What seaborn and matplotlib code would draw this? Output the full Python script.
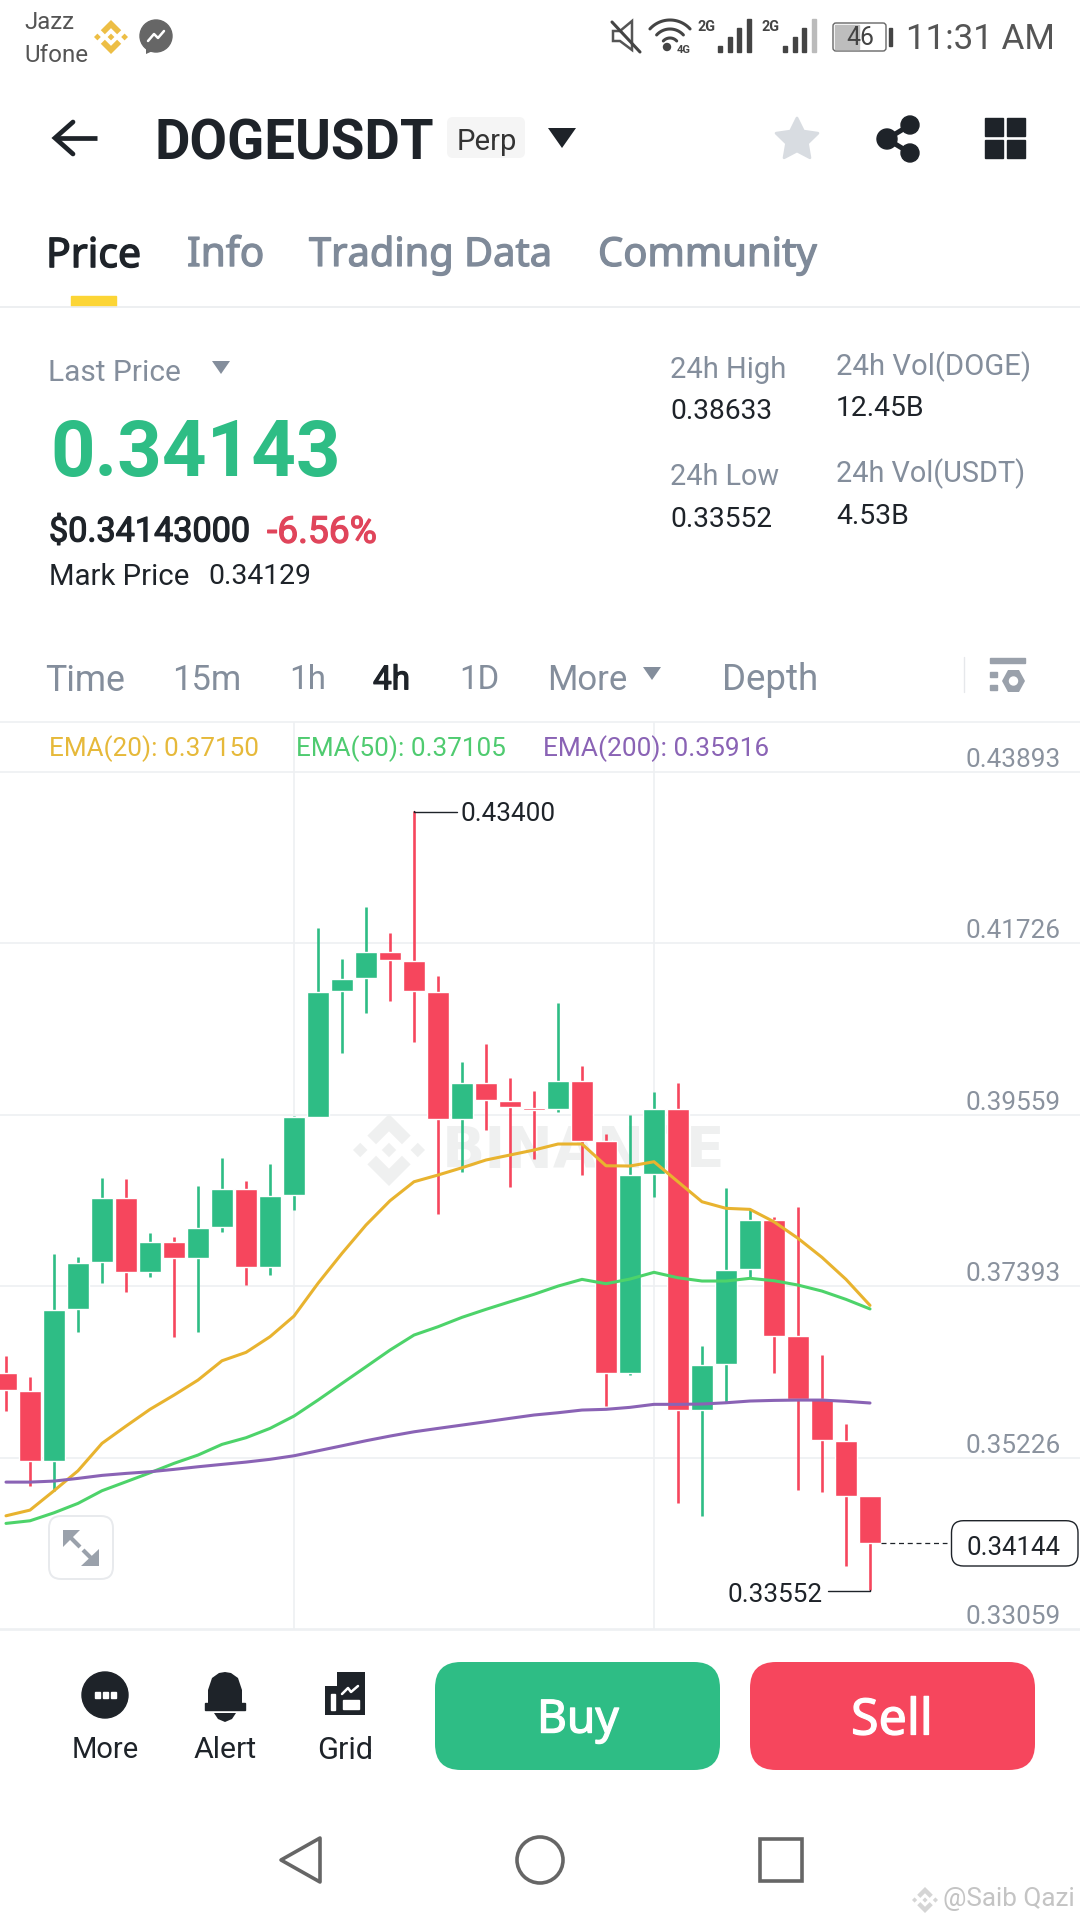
"""
plot.py - DOGEUSDT perp 4h candle screen, rebuilt with seaborn + matplotlib.
"""

import numpy as np
import pandas as pd
import matplotlib
matplotlib.use("Agg")
import matplotlib.pyplot as plt
import matplotlib.patheffects as pe
import seaborn as sns
from matplotlib.patches import Circle, FancyBboxPatch, Polygon, Rectangle

# candles, oldest first
opens = [0.36298, 0.36071, 0.35178, 0.37100, 0.37698, 0.38503, 0.37571, 0.37955, 0.37749, 0.38137,
         0.38621, 0.37639, 0.38541, 0.39535, 0.41124, 0.41289, 0.41613, 0.41503, 0.41115, 0.39510,
         0.39961, 0.39733, 0.39645, 0.39629, 0.39986, 0.39232, 0.36298, 0.38807, 0.39629, 0.35827,
         0.36408, 0.37609, 0.38229, 0.36759, 0.35962, 0.35435, 0.34743]
highs = [0.36513, 0.36244, 0.37799, 0.37757, 0.38756, 0.38747, 0.38061, 0.38018, 0.38659, 0.39009,
         0.38722, 0.38937, 0.39548, 0.41917, 0.41533, 0.42182, 0.41854, 0.43400, 0.41314, 0.40230,
         0.40450, 0.40028, 0.39864, 0.40969, 0.40176, 0.39312, 0.39556, 0.39843, 0.39961, 0.36640,
         0.38630, 0.38364, 0.38271, 0.38397, 0.36518, 0.35646, 0.34743]
lows = [0.35814, 0.34866, 0.34807, 0.36813, 0.37429, 0.37319, 0.37512, 0.36746, 0.36813, 0.38077,
        0.37411, 0.37537, 0.38355, 0.39530, 0.40337, 0.40850, 0.40998, 0.40479, 0.38301, 0.38832,
        0.39367, 0.38642, 0.38996, 0.39598, 0.38802, 0.35877, 0.36269, 0.38524, 0.34647, 0.34490,
        0.35932, 0.37504, 0.36298, 0.34815, 0.34794, 0.33854, 0.33552]
closes = [0.36080, 0.35178, 0.37091, 0.37689, 0.38503, 0.37571, 0.37955, 0.37749, 0.38132, 0.38621,
          0.37639, 0.38532, 0.39535, 0.41115, 0.41280, 0.41613, 0.41512, 0.41124, 0.39510, 0.39961,
          0.39746, 0.39654, 0.39620, 0.39986, 0.39232, 0.36298, 0.38794, 0.39629, 0.35827, 0.36396,
          0.37601, 0.38229, 0.36766, 0.35970, 0.35444, 0.34743, 0.34144]

ema20 = [0.34490, 0.34562, 0.34807, 0.35059, 0.35406, 0.35624, 0.35836, 0.36016, 0.36206, 0.36450,
         0.36556, 0.36754, 0.37015, 0.37429, 0.37808, 0.38166, 0.38473, 0.38713, 0.38798, 0.38890,
         0.38988, 0.39051, 0.39114, 0.39190, 0.39190, 0.38915, 0.38912, 0.38966, 0.38713, 0.38460,
         0.38377, 0.38364, 0.38207, 0.37998, 0.37757, 0.37479, 0.37150]
ema50 = [0.34394, 0.34427, 0.34528, 0.34647, 0.34807, 0.34920, 0.35034, 0.35153, 0.35258, 0.35393,
         0.35477, 0.35595, 0.35751, 0.35953, 0.36164, 0.36374, 0.36585, 0.36775, 0.36880, 0.36999,
         0.37100, 0.37196, 0.37290, 0.37394, 0.37479, 0.37424, 0.37483, 0.37568, 0.37499, 0.37458,
         0.37458, 0.37492, 0.37462, 0.37407, 0.37331, 0.37226, 0.37105]
ema200 = [0.34916, 0.34916, 0.34929, 0.34963, 0.35001, 0.35026, 0.35047, 0.35077, 0.35110, 0.35140,
          0.35169, 0.35204, 0.35249, 0.35312, 0.35375, 0.35439, 0.35498, 0.35552, 0.35595, 0.35637,
          0.35679, 0.35722, 0.35764, 0.35793, 0.35827, 0.35836, 0.35861, 0.35899, 0.35899, 0.35903,
          0.35919, 0.35941, 0.35949, 0.35953, 0.35953, 0.35937, 0.35916]

price_ticks = [0.43893, 0.41726, 0.39559, 0.37393, 0.35226, 0.33059]
time_grid = [12, 27]
day_high = 0.43400
day_low = 0.33552
last_mark = 0.34144

GREEN = "#2EBD85"
RED = "#F6465D"
DARK = "#1E2329"
GRAY = "#848E9C"
GRID = "#EEF0F2"
EMA_COLORS = {"EMA20": "#E8B32F", "EMA50": "#4DD36A", "EMA200": "#8A63B5"}

sns.set_theme(style="white")
plt.rcParams["font.family"] = ["Roboto", "DejaVu Sans"]

fig = plt.figure(figsize=(10.8, 19.2), dpi=100, facecolor="white")
renderer = fig.canvas.get_renderer()


def pixel_axes(zorder):
    a = fig.add_axes([0, 0, 1, 1], zorder=zorder)
    a.set_xlim(0, 1080)
    a.set_ylim(1920, 0)
    a.axis("off")
    a.patch.set_alpha(0)
    return a


back = pixel_axes(0)
ui = pixel_axes(2)


def put(x0, x1, yc, s, color=DARK, weight="normal", family="Roboto", a=None, heavy=0):
    """Place text so it runs from x0 to x1 px, centred on yc."""
    t = (a or ui).text(x0, yc, s, color=color, fontweight=weight, family=family,
                       ha="left", va="center", fontsize=20)
    w = t.get_window_extent(renderer).width
    size = 20 * (x1 - x0) / w
    t.set_fontsize(size)
    # va="center" sits a bit high for caps, push down with the font size
    t.set_y(yc + 0.1 * size * 100 / 72)
    if heavy:
        t.set_path_effects([pe.withStroke(linewidth=heavy, foreground=color)])
    return t


def tri(a, pts, color, **kw):
    a.add_patch(Polygon(pts, closed=True, facecolor=color, edgecolor=kw.pop("edge", "none"), **kw))


def binance_mark(a, cx, cy, r, color):
    shapes = [
        [(0, -0.2), (0.2, 0), (0, 0.2), (-0.2, 0)],
        [(-0.8, -0.2), (-0.6, 0), (-0.8, 0.2), (-1, 0)],
        [(0.8, -0.2), (1, 0), (0.8, 0.2), (0.6, 0)],
        [(-0.6, -0.4), (0, -1), (0.6, -0.4), (0.36, -0.16), (0, -0.52), (-0.36, -0.16)],
        [(-0.6, 0.4), (0, 1), (0.6, 0.4), (0.36, 0.16), (0, 0.52), (-0.36, 0.16)],
    ]
    for s in shapes:
        tri(a, [(cx + x * r, cy + y * r) for x, y in s], color)


# ---- chart ----
k = (price_ticks[0] - price_ticks[-1]) / (1629 - 772)
ax = fig.add_axes([0, 1 - 1630 / 1920, 1, (1630 - 721.7) / 1920], zorder=1)
ax.patch.set_alpha(0)
ax.set_xlim(-0.25, 44.75)
ax.set_ylim(price_ticks[-1] - k, price_ticks[0] + 50.3 * k)

candles = pd.DataFrame({"open": opens, "high": highs, "low": lows, "close": closes})
candles["pos"] = candles.index
candles["color"] = np.where(candles["close"] >= candles["open"], GREEN, RED)

ax.vlines(candles["pos"], candles["low"], candles["high"], colors=candles["color"], linewidth=1.9, zorder=2)
ax.bar(candles["pos"], (candles["close"] - candles["open"]).abs(),
       bottom=candles[["open", "close"]].min(axis=1), width=0.88, color=candles["color"], zorder=2)

ema_df = pd.DataFrame({"EMA20": ema20, "EMA50": ema50, "EMA200": ema200})
ema_df["candle"] = ema_df.index
ema_long = ema_df.melt(id_vars="candle", var_name="ema", value_name="price")
sns.lineplot(data=ema_long, x="candle", y="price", hue="ema", palette=EMA_COLORS,
             linewidth=2.2, legend=False, ax=ax, zorder=3, errorbar=None)

ax.set_xticks(time_grid)
ax.set_xticklabels([])
ax.set_xlabel("")
ax.set_ylabel("")
ax.yaxis.tick_right()
ax.set_yticks(price_ticks)
ax.set_yticklabels([f"{p:.5f}" for p in price_ticks], color="#8A929E", fontsize=18.8)
ax.tick_params(axis="y", length=0, pad=-13.7)
ax.tick_params(axis="x", length=0)
for lab in ax.get_yticklabels():
    lab.set_ha("right")
    lab.set_va("bottom")
ax.grid(True, color=GRID, linewidth=1.2)
ax.set_axisbelow(True)
for side in ["left", "right"]:
    ax.spines[side].set_visible(False)
for side in ["top", "bottom"]:
    ax.spines[side].set_color(GRID)
    ax.spines[side].set_linewidth(1.2)

ax.annotate(f"{day_high:.5f}", xy=(17, day_high), xytext=(46, -3), textcoords="offset pixels",
            ha="left", va="center", color=DARK, fontsize=18.8,
            arrowprops=dict(arrowstyle="-", color=DARK, lw=1, shrinkA=0, shrinkB=0,
                            connectionstyle="angle,angleA=0,angleB=90,rad=0",
                            relpos=(0, 0.6)))
ax.annotate(f"{day_low:.5f}", xy=(36, day_low), xytext=(-47, -5), textcoords="offset pixels",
            ha="right", va="center", color=DARK, fontsize=18.8,
            arrowprops=dict(arrowstyle="-", color=DARK, lw=1, shrinkA=1, shrinkB=0,
                            connectionstyle="angle,angleA=0,angleB=90,rad=0",
                            relpos=(1, 0.65)))
ax.hlines(last_mark, 36.45, 39.2, colors=DARK, linestyles=(0, (4, 3)), linewidth=0.9, zorder=3)

ui.add_patch(FancyBboxPatch((951.5 + 10, 1520.7 + 10), 126.5 - 20, 45.3 - 20,
                            boxstyle="round,pad=10,rounding_size=12",
                            facecolor="white", edgecolor=DARK, linewidth=1))
put(967, 1061, 1545, f"{last_mark:.5f}")

# watermark under the candles
binance_mark(back, 389, 1150, 36, "#EFF0F0")
put(442, 724, 1147, "BINANCE", "#EFF0F0", "bold", "DejaVu Sans", a=back)

# expand button
ui.add_patch(FancyBboxPatch((59, 1526), 44, 43, boxstyle="round,pad=10,rounding_size=12",
                            facecolor="white", edgecolor="#E8EAED", linewidth=1.4))
tri(ui, [(63, 1530), (80, 1530), (63, 1547)], "#9AA1AB")
tri(ui, [(99, 1549), (99, 1566), (81, 1566)], "#9AA1AB")
ui.plot([70, 80], [1537, 1547], color="#9AA1AB", lw=3, solid_capstyle="butt")
ui.plot([83, 92], [1550, 1559], color="#9AA1AB", lw=3, solid_capstyle="butt")

# EMA legend row
put(49, 259, 746, f"EMA(20): {ema20[-1]:.5f}", "#E6B93A")
put(296, 506, 746, f"EMA(50): {ema50[-1]:.5f}", "#4FCB70")
put(543, 768, 746, f"EMA(200): {ema200[-1]:.5f}", EMA_COLORS["EMA200"])

# ---- status bar ----
put(24, 74, 20, "Jazz", "#555555")
put(24, 88, 53, "Ufone", "#555555")
binance_mark(ui, 111, 37, 17, "#EDBE45")
ui.add_patch(Circle((156, 36), 16, color="#666666"))
tri(ui, [(146, 46), (146, 54), (155, 50)], "#666666")
ui.plot([148, 154, 158, 164], [41, 34, 38, 31], color="white", lw=1.8)

tri(ui, [(613, 31), (620, 31), (632, 21), (632, 50), (620, 41), (613, 41)], "white", edge="#555555", linewidth=1.8)
ui.plot([612, 640], [22, 52], color="#444444", lw=2.2)
th = np.linspace(np.radians(222), np.radians(318), 30)
for r in [9, 18, 27]:
    ui.plot(670 + r * np.cos(th), 47 + r * np.sin(th), color="#444444", lw=2.2)
ui.add_patch(Circle((667, 47), 3.5, color="#444444"))
put(677, 691, 49, "4G", "#444444", "bold")
for x0, n_dark in [(718, 4), (783, 3)]:
    put(x0 - 21, x0 - 3, 26, "2G", "#444444", "bold")
    for j in range(4):
        top = 46 - j * 9
        c = "#444444" if j < n_dark else "#BBBBBB"
        ui.add_patch(Rectangle((x0 + j * 9.5, top), 4, 52 - top, color=c))
ui.add_patch(FancyBboxPatch((835, 25), 49, 24, boxstyle="round,pad=2,rounding_size=3",
                            facecolor="white", edgecolor="#666666", linewidth=1))
ui.add_patch(Rectangle((835, 25), 24, 24, color="#BDBDBD"))
ui.add_patch(Rectangle((889, 28), 3, 18, color="#444444"))
put(846, 874, 36, "46", "#444444")
put(906, 1055, 36, "11:31 AM", "#555555")

# ---- header ----
ui.plot([97, 56], [138, 138], color=DARK, lw=3.4, solid_capstyle="butt")
ui.plot([73, 55, 73], [122, 138, 154], color=DARK, lw=3.4, solid_joinstyle="miter")
put(155, 434, 139, "DOGEUSDT", DARK, "bold")
ui.add_patch(FancyBboxPatch((451, 121), 70, 33, boxstyle="round,pad=4,rounding_size=6",
                            facecolor="#F5F5F5", edgecolor="none"))
put(457, 517, 139, "Perp", "#333333")
tri(ui, [(548, 128), (576, 128), (562, 148)], DARK)
star = [(797 + (22 if j % 2 == 0 else 11) * np.sin(j * np.pi / 5),
         140 - (22 if j % 2 == 0 else 11) * np.cos(j * np.pi / 5)) for j in range(10)]
tri(ui, star, "#D8DCE1", edge="#D8DCE1", linewidth=2, joinstyle="round")
ui.plot([910, 887, 910], [125, 139, 153], color=DARK, lw=3.6)
for px, py, r in [(910, 125, 9), (887, 139, 10), (910, 153, 9)]:
    ui.add_patch(Circle((px, py), r, color=DARK))
for px, py in [(985, 118), (1007, 118), (985, 140), (1007, 140)]:
    ui.add_patch(Rectangle((px, py), 18, 18, color=DARK))

# ---- tabs ----
put(46, 141, 252, "Price", DARK, "normal", "Noto Sans", heavy=1.0)
put(187, 264, 252, "Info", "#7F8A99", "normal", "Noto Sans", heavy=0.9)
put(309, 552, 252, "Trading Data", "#7F8A99", "normal", "Noto Sans", heavy=0.9)
put(598, 817, 252, "Community", "#7F8A99", "normal", "Noto Sans", heavy=0.9)
ui.add_patch(Rectangle((71, 296), 45, 10, color="#FCD535"))
ui.plot([0, 1080], [306.5, 306.5], color="#EAECEF", lw=1.2)

# ---- price panel ----
put(48, 180, 370, "Last Price", GRAY)
tri(ui, [(212, 361), (230, 361), (221, 374)], GRAY)
put(50, 340, 447, "0.34143", GREEN, "bold")
put(49, 250, 529, "$0.34143000", DARK, heavy=0.9)
put(267, 377, 529, "-6.56%", "#E0455B", heavy=0.9)
put(49, 189, 574, "Mark Price", DARK)
put(208, 311, 574, "0.34129", DARK)

put(670, 786, 367, "24h High", GRAY)
put(836, 1030, 364, "24h Vol(DOGE)", GRAY)
put(670, 772, 409, "0.38633", DARK)
put(836, 925, 406, "12.45B", DARK)
put(670, 779, 474, "24h Low", GRAY)
put(836, 1025, 471, "24h Vol(USDT)", GRAY)
put(670, 772, 517, "0.33552", DARK)
put(836, 909, 514, "4.53B", DARK)

# ---- interval bar ----
put(45, 125, 677, "Time", GRAY)
put(172, 241, 677, "15m", GRAY)
put(289, 326, 677, "1h", GRAY)
put(373, 410, 677, "4h", DARK, heavy=0.9)
put(459, 499, 677, "1D", GRAY)
put(547, 627, 677, "More", GRAY)
tri(ui, [(643, 667), (661, 667), (652, 680)], GRAY)
put(722, 818, 676, "Depth", GRAY)
ui.plot([964, 964], [657, 692], color="#E6E8EB", lw=1)
ui.add_patch(Rectangle((990, 658), 35, 5, color="#9AA1AB"))
ui.add_patch(Rectangle((990, 672), 7, 5, color="#9AA1AB"))
ui.add_patch(Rectangle((990, 685), 7, 5, color="#9AA1AB"))
tri(ui, [(1008, 670), (1019, 670), (1025, 681), (1019, 692), (1008, 692), (1002, 681)], "#9AA1AB")
ui.add_patch(Circle((1013.5, 681), 4, color="white"))

# ---- bottom actions ----
ui.add_patch(Circle((105, 1695), 23, color=DARK))
for dx in [-8, 0, 8]:
    ui.add_patch(Rectangle((105 + dx - 2.5, 1692), 5, 6, color="white"))
ui.add_patch(Rectangle((205, 1703), 40, 7, color=DARK))
tri(ui, [(208, 1705), (242, 1705), (242, 1690), (238, 1678), (231, 1673), (225, 1672),
         (219, 1673), (212, 1678), (208, 1690)], DARK)
tri(ui, [(214, 1713), (236, 1713), (232, 1719), (225, 1722), (218, 1719)], DARK)
tri(ui, [(337, 1672), (365, 1672), (365, 1715), (325, 1715), (325, 1686), (337, 1686)], DARK)
ui.plot([342, 348, 351, 358], [1694, 1688, 1692, 1686], color="white", lw=1.8)
ui.add_patch(Rectangle((331, 1694), 4, 16, color="white"))
ui.add_patch(Rectangle((343, 1700), 16, 9, color="white"))
put(72, 139, 1747, "More", DARK)
put(194, 257, 1747, "Alert", DARK)
put(317, 373, 1747, "Grid", DARK)

ui.add_patch(FancyBboxPatch((461, 1688), 233, 56, boxstyle="round,pad=26,rounding_size=26",
                            facecolor=GREEN, edgecolor="none"))
ui.add_patch(FancyBboxPatch((776, 1688), 233, 56, boxstyle="round,pad=26,rounding_size=26",
                            facecolor=RED, edgecolor="none"))
put(537, 619, 1716, "Buy", "white", "normal", "Noto Sans", heavy=0.9)
put(851, 933, 1716, "Sell", "white", "normal", "Noto Sans", heavy=0.9)

# ---- nav bar ----
tri(ui, [(320, 1838), (320, 1882), (281, 1860)], "white", edge="#666666", linewidth=2.6, joinstyle="round")
ui.add_patch(Circle((540, 1860), 23, facecolor="white", edgecolor="#666666", linewidth=2.6))
ui.add_patch(Rectangle((760, 1839), 42, 42, facecolor="white", edgecolor="#666666", linewidth=2.6))
binance_mark(ui, 925, 1900, 13, "#D5D5D5")
put(943, 1075, 1896, "@Saib Qazi", "#C4C4C4")

fig.savefig("out.png", dpi=100)
plt.close(fig)
print("saved out.png")
